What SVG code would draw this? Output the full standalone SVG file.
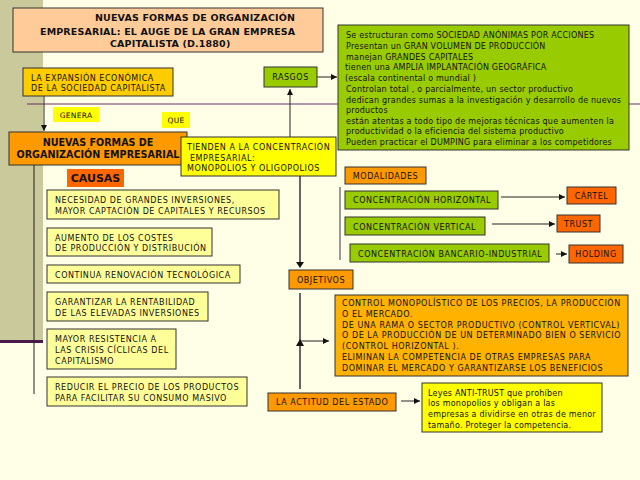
<svg xmlns="http://www.w3.org/2000/svg" width="640" height="480" viewBox="0 0 640 480">
<style>
.bx{stroke:#333;stroke-width:1}
.peach{fill:#FFCC99}.gold{fill:#FFCC00}.gold2{fill:#FFB300}.green{fill:#99CC00}
.yel{fill:#FFFF00}.lyel{fill:#FFFF99}.org{fill:#FF9900}.red{fill:#FF6600}
text{font-family:"DejaVu Sans","Liberation Sans",sans-serif;font-size:8px;fill:#111;letter-spacing:0.55px}
.lc{letter-spacing:0.22px}
.b{font-weight:bold;letter-spacing:0}
.m{text-anchor:middle}
.ln{stroke:#222;stroke-width:1;fill:none}
.gl{stroke:#666;stroke-width:2;fill:none}
</style>
<defs>
<marker id="ah" markerUnits="userSpaceOnUse" markerWidth="7" markerHeight="7" refX="6" refY="3" orient="auto"><path d="M0,0 L6,3 L0,6 z" fill="#111"/></marker>
</defs>
<rect width="640" height="480" fill="#FFFFE8"/>
<rect x="0" y="0" width="43" height="340" fill="#C9C99B"/>
<rect x="0" y="340" width="43" height="3" fill="#4A1A4A"/>
<line x1="27" y1="104" x2="640" y2="104" stroke="#663366" stroke-width="1"/>

<g id="connectors">
<line class="ln" x1="44" y1="96" x2="44" y2="131" marker-end="url(#ah)"/>
<line class="ln" x1="34" y1="165" x2="34" y2="394"/>
<line class="ln" x1="290" y1="137" x2="290" y2="89" marker-end="url(#ah)"/>
<line class="ln" x1="317" y1="77" x2="337" y2="77" marker-end="url(#ah)"/>
<line class="gl" x1="300" y1="176" x2="300" y2="262"/>
<path d="M296,262 L304,262 L300,268 z" fill="#111"/>
<line x1="340" y1="187" x2="340" y2="260" stroke="#999" stroke-width="2"/>
<line class="ln" x1="501" y1="197" x2="565" y2="197" marker-end="url(#ah)"/>
<line class="ln" x1="492" y1="224" x2="555" y2="224" marker-end="url(#ah)"/>
<line class="ln" x1="556" y1="254" x2="567" y2="254" marker-end="url(#ah)"/>
<line class="gl" x1="300" y1="293" x2="300" y2="389"/>
<path d="M296,346 L304,346 L300,339 z" fill="#111"/>
<line class="ln" x1="300" y1="341" x2="329" y2="341" marker-end="url(#ah)"/>
<line class="ln" x1="401" y1="401" x2="420" y2="401" marker-end="url(#ah)"/>
</g>

<g id="title">
<rect class="bx peach" x="13" y="8" width="310" height="44"/>
<text class="b" x="95" y="21" style="font-size:9.5px;letter-spacing:0.15px">NUEVAS FORMAS DE ORGANIZACIÓN</text>
<text class="b" x="40" y="35" style="font-size:9.5px;letter-spacing:0.15px">EMPRESARIAL: EL AUGE DE LA GRAN EMPRESA</text>
<text class="b" x="110" y="47" style="font-size:9.5px;letter-spacing:0.15px">CAPITALISTA (D.1880)</text>
</g>

<g id="expansion">
<rect class="bx gold" x="23" y="68" width="150" height="28"/>
<text x="31" y="81">LA EXPANSIÓN ECONÓMICA</text>
<text x="31" y="91">DE LA SOCIEDAD CAPITALISTA</text>
</g>

<g id="rasgos">
<rect class="bx green" x="264" y="67" width="53" height="20"/>
<text class="m" x="290.5" y="80">RASGOS</text>
</g>

<g id="rasgos-list">
<rect class="bx green" x="338" y="25" width="291" height="125"/>
<text class="lc" x="346" y="38">Se estructuran como SOCIEDAD ANÓNIMAS POR ACCIONES</text>
<text class="lc" x="346" y="49">Presentan un GRAN VOLUMEN DE PRODUCCIÓN</text>
<text class="lc" x="346" y="60">manejan GRANDES CAPITALES</text>
<text class="lc" x="345" y="70">tienen una AMPLIA IMPLANTACIÓN GEOGRÁFICA</text>
<text class="lc" x="345" y="81">(escala continental o mundial )</text>
<text class="lc" x="346" y="92">Controlan total , o parcialmente, un sector productivo</text>
<text class="lc" x="346" y="102.5">dedican grandes sumas a la investigación y desarrollo de nuevos</text>
<text class="lc" x="346" y="113">productos</text>
<text class="lc" x="346" y="124">están atentas a todo tipo de mejoras técnicas que aumenten la</text>
<text class="lc" x="346" y="134">productividad o la eficiencia del sistema productivo</text>
<text class="lc" x="346" y="145">Pueden practicar el DUMPING para eliminar a los competidores</text>
</g>

<g id="genera">
<rect class="yel" x="53" y="107" width="46" height="15"/>
<text class="m" x="76" y="117.5" style="font-size:7.5px;letter-spacing:0.3px">GENERA</text>
</g>

<g id="que">
<rect class="yel" x="162" y="112" width="28" height="16"/>
<text class="m" x="176" y="123" style="font-size:7.5px;letter-spacing:0.3px">QUE</text>
</g>

<g id="nuevas">
<rect class="bx org" x="9" y="132" width="178" height="33"/>
<text class="b m" x="98" y="146" style="font-size:9.6px">NUEVAS FORMAS DE</text>
<text class="b m" x="98" y="157.5" style="font-size:9.6px">ORGANIZACIÓN EMPRESARIAL</text>
</g>

<g id="tienden">
<rect class="bx yel" x="181" y="137" width="155" height="39"/>
<text x="187" y="150">TIENDEN A LA CONCENTRACIÓN</text>
<text x="190" y="160.5">EMPRESARIAL:</text>
<text x="187" y="171">MONOPOLIOS Y OLIGOPOLIOS</text>
</g>

<g id="causas">
<rect class="red" x="67" y="169" width="57" height="18"/>
<text class="b m" x="95.5" y="182" style="font-size:11px">CAUSAS</text>
</g>

<g id="causa1">
<rect class="bx lyel" x="47" y="190" width="232" height="29"/>
<text x="55" y="203">NECESIDAD DE GRANDES INVERSIONES,</text>
<text x="55" y="214">MAYOR CAPTACIÓN DE CAPITALES Y RECURSOS</text>
</g>
<g id="causa2">
<rect class="bx lyel" x="47" y="228" width="165" height="28"/>
<text x="55" y="241">AUMENTO DE LOS COSTES</text>
<text x="55" y="251">DE PRODUCCIÓN Y DISTRIBUCIÓN</text>
</g>
<g id="causa3">
<rect class="bx lyel" x="47" y="265" width="193" height="18"/>
<text x="55" y="278">CONTINUA RENOVACIÓN TECNOLÓGICA</text>
</g>
<g id="causa4">
<rect class="bx lyel" x="47" y="292" width="161" height="29"/>
<text x="55" y="305">GARANTIZAR LA RENTABILIDAD</text>
<text x="55" y="316">DE LAS ELEVADAS INVERSIONES</text>
</g>
<g id="causa5">
<rect class="bx lyel" x="47" y="329" width="129" height="40"/>
<text x="55" y="342">MAYOR RESISTENCIA A</text>
<text x="55" y="353">LAS CRISIS CÍCLICAS DEL</text>
<text x="55" y="364">CAPITALISMO</text>
</g>
<g id="causa6">
<rect class="bx lyel" x="47" y="377" width="200" height="29"/>
<text x="55" y="390">REDUCIR EL PRECIO DE LOS PRODUCTOS</text>
<text x="55" y="401">PARA FACILITAR SU CONSUMO MASIVO</text>
</g>

<g id="modalidades">
<rect class="bx org" x="345" y="167" width="81" height="17"/>
<text class="m" x="385.5" y="178.5">MODALIDADES</text>
</g>
<g id="horizontal">
<rect class="bx green" x="345" y="191" width="153" height="18"/>
<text x="353" y="203">CONCENTRACIÓN HORIZONTAL</text>
</g>
<g id="cartel">
<rect class="bx red" x="567" y="187" width="49" height="17"/>
<text class="m" x="591.5" y="199">CÁRTEL</text>
</g>
<g id="vertical">
<rect class="bx green" x="345" y="217" width="140" height="18"/>
<text x="353" y="230">CONCENTRACIÓN VERTICAL</text>
</g>
<g id="trust">
<rect class="bx red" x="557" y="215" width="43" height="17"/>
<text class="m" x="578.5" y="227">TRUST</text>
</g>
<g id="bancario">
<rect class="bx green" x="350" y="244" width="199" height="18"/>
<text x="358" y="257">CONCENTRACIÓN BANCARIO-INDUSTRIAL</text>
</g>
<g id="holding">
<rect class="bx red" x="569" y="245" width="54" height="18"/>
<text class="m" x="596" y="257">HOLDING</text>
</g>

<g id="objetivos">
<rect class="bx org" x="289" y="270" width="64" height="19"/>
<text class="m" x="321" y="283">OBJETIVOS</text>
</g>

<g id="control">
<rect class="bx gold2" x="335" y="295" width="293" height="81"/>
<text x="342" y="306">CONTROL MONOPOLÍSTICO DE LOS PRECIOS, LA PRODUCCIÓN</text>
<text x="342" y="317">O EL MERCADO.</text>
<text x="342" y="328">DE UNA RAMA O SECTOR PRODUCTIVO (CONTROL VERTICVAL)</text>
<text x="342" y="338">O DE LA PRODUCCIÓN DE UN DETERMINADO BIEN O SERVICIO</text>
<text x="342" y="349">(CONTROL HORIZONTAL ).</text>
<text x="342" y="360">ELIMINAN LA COMPETENCIA DE OTRAS EMPRESAS PARA</text>
<text x="342" y="371">DOMINAR EL MERCADO Y GARANTIZARSE LOS BENEFICIOS</text>
</g>

<g id="actitud">
<rect class="bx org" x="268" y="393" width="128" height="18"/>
<text x="276" y="405">LA ACTITUD DEL ESTADO</text>
</g>

<g id="leyes">
<rect class="bx yel" x="422" y="383" width="180" height="49"/>
<text class="lc" x="428" y="396">Leyes ANTI-TRUST que prohíben</text>
<text class="lc" x="428" y="406">los monopolios y obligan a las</text>
<text class="lc" x="428" y="417">empresas a dividirse en otras de menor</text>
<text class="lc" x="428" y="428">tamaño. Proteger la competencia.</text>
</g>
</svg>
